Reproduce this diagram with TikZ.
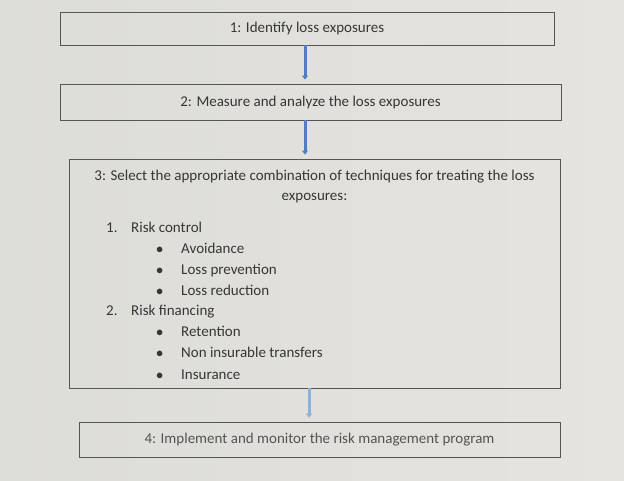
\documentclass[tikz,border=0pt]{standalone}
\usepackage{fontspec}
\setmainfont{Carlito}
\usepackage{tikz}
\usetikzlibrary{positioning,arrows.meta}
\definecolor{photo}{HTML}{DCDCD8}
\definecolor{photoright}{HTML}{E6E4DF}
\definecolor{frame}{HTML}{555555}
\definecolor{ink}{HTML}{363636}
\definecolor{flow}{HTML}{4F7EC2}
\definecolor{flowlight}{HTML}{8DB2DA}

\begin{document}
\begin{tikzpicture}[x=1pt,y=-1pt,
stepbox/.style={
rectangle,
draw=frame,
line width=0.9pt,
text=ink,
font=\fontsize{15}{20}\selectfont
},
item/.style={anchor=base west,inner sep=0pt,text=ink,font=\fontsize{15}{20}\selectfont},
to/.style={-{Triangle[length=4pt,width=6pt]},line width=3pt,draw=flow,fill=flow},
]
\shade[left color=photo,right color=photoright] (0,0) rectangle (624,480);
\useasboundingbox (0,0) rectangle (624,480);
% the four steps
\node (step1) [stepbox,minimum width=494pt,minimum height=33pt] at (307,28.5) {1: Identify loss exposures};
\node (step2) [stepbox,minimum width=501pt,minimum height=36pt] at (310.5,102) {2: Measure and analyze the loss exposures};
\node (step3) [stepbox,minimum width=491pt,minimum height=229pt] at (314.5,273.5) {};
\node (step4) [stepbox,text=ink!85,minimum width=481pt,minimum height=35pt] at (319.5,439.5) {4: Implement and monitor the risk management program};
% text of step 3
\node (title) [text=ink,align=center,inner sep=0pt,font=\fontsize{15}{20}\selectfont] at (314.5,186) {3: Select the appropriate combination of techniques for treating the loss\\exposures:};
\node (n1) [item] at (106,232) {1.};
\node (control) [item] at (131,232) {Risk control};
\node (b1) [item] at (156,253) {$\bullet$};
\node (avoid) [item] at (181,253) {Avoidance};
\node (b2) [item] at (156,274) {$\bullet$};
\node (prevent) [item] at (181,274) {Loss prevention};
\node (b3) [item] at (156,295) {$\bullet$};
\node (reduce) [item] at (181,295) {Loss reduction};
\node (n2) [item] at (106,315) {2.};
\node (financing) [item] at (131,315) {Risk financing};
\node (b4) [item] at (156,336) {$\bullet$};
\node (retain) [item] at (181,336) {Retention};
\node (b5) [item] at (156,357) {$\bullet$};
\node (transfer) [item] at (181,357) {Non insurable transfers};
\node (b6) [item] at (156,379) {$\bullet$};
\node (insure) [item] at (181,379) {Insurance};
% connectors
\draw[to] ([xshift=-2pt]step1.south) -- ([xshift=-2pt,yshift=4pt]step1.south |- step2.north);
\draw[to] ([xshift=-5.5pt]step2.south) -- ([xshift=-5.5pt,yshift=4pt]step2.south |- step3.north);
\draw[to,draw=flowlight,fill=flowlight] ([xshift=-5.5pt]step3.south) -- ([xshift=-5.5pt,yshift=4pt]step3.south |- step4.north);
\end{tikzpicture}
\end{document}
